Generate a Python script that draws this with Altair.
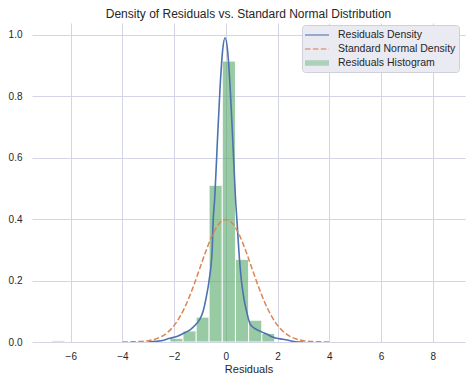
import altair as alt
import pandas as pd

# ---- text ----
chart_title = "Density of Residuals vs. Standard Normal Distribution"
x_title = "Residuals"

# ---- histogram (density) ----
hist_left = [-6.74, -2.17, -1.66, -1.15, -0.65, -0.14, 0.37, 0.88, 1.39]
hist_right = [-6.23, -1.66, -1.15, -0.65, -0.14, 0.37, 0.88, 1.39, 1.89]
hist_density = [0.004, 0.012, 0.036, 0.081, 0.51, 0.914, 0.269, 0.071, 0.028]

# ---- residuals KDE ----
kde_x = [-3.0, -2.7, -2.4, -2.17, -1.9, -1.59, -1.35, -1.13, -1.0, -0.88, -0.75,
         -0.65, -0.53, -0.5, -0.43, -0.33, -0.23, -0.13, -0.03, 0.07, 0.17, 0.27,
         0.37, 0.44, 0.5, 0.6, 0.7, 0.8, 0.93, 1.1, 1.38, 1.6, 1.8, 1.96, 2.2,
         2.45, 2.7, 3.0]
kde_y = [0.0, 0.002, 0.006, 0.012, 0.018, 0.03, 0.042, 0.06, 0.075, 0.10, 0.15,
         0.20, 0.30, 0.38, 0.47, 0.65, 0.82, 0.945, 0.99, 0.945, 0.82, 0.65,
         0.47, 0.38, 0.30, 0.20, 0.14, 0.10, 0.06, 0.045, 0.033, 0.025, 0.016,
         0.012, 0.009, 0.005, 0.001, 0.0]

# ---- standard normal density ----
norm_x = [-4.0, -3.75, -3.5, -3.25, -3.0, -2.75, -2.5, -2.25, -2.0, -1.75, -1.5,
          -1.25, -1.0, -0.75, -0.5, -0.25, 0.0, 0.25, 0.5, 0.75, 1.0, 1.25, 1.5,
          1.75, 2.0, 2.25, 2.5, 2.75, 3.0, 3.25, 3.5, 3.75, 4.0]
norm_y = [0.0001, 0.0004, 0.0009, 0.0020, 0.0044, 0.0091, 0.0175, 0.0317, 0.0540,
          0.0863, 0.1295, 0.1826, 0.2420, 0.3011, 0.3521, 0.3867, 0.3989, 0.3867,
          0.3521, 0.3011, 0.2420, 0.1826, 0.1295, 0.0863, 0.0540, 0.0317, 0.0175,
          0.0091, 0.0044, 0.0020, 0.0009, 0.0004, 0.0001]

# ---- ticks ----
x_ticks = [-6, -4, -2, 0, 2, 4, 6, 8]
y_ticks = [0.0, 0.2, 0.4, 0.6, 0.8, 1.0]

# ---- legend ----
series_names = ["Residuals Density", "Standard Normal Density", "Residuals Histogram"]
series_colors = ["#4c72b0", "#dd8452", "#55a868"]
legend_colors = ["#4c72b0", "#dd8452", "#93c6a0"]
series_dash = [[1, 0], [5.5, 2.4], [1, 0]]
line_path = "M-2,0H2"
patch_path = "M-2,-0.33H2M-2,-0.11H2M-2,0.11H2M-2,0.33H2"
series_shapes = [line_path, line_path, patch_path]

FONT = "Liberation Sans"

hist_df = pd.DataFrame({"left": hist_left, "right": hist_right, "density": hist_density})
kde_df = pd.DataFrame({"x": kde_x, "y": kde_y})
norm_df = pd.DataFrame({"x": norm_x, "y": norm_y})
legend_df = pd.DataFrame({"series": series_names})

xscale = alt.Scale(domain=[-7.5, 9.25], nice=False, zero=False)
yscale = alt.Scale(domain=[0, 1.038], nice=False)
xaxis = alt.Axis(values=x_ticks, title=x_title, labelPadding=9, titlePadding=2)
yaxis = alt.Axis(values=y_ticks, format=".1f", title=None, labelPadding=10)

bars = alt.Chart(hist_df).mark_bar(
    color=series_colors[2], opacity=0.6, stroke="white", strokeWidth=1, clip=True
).encode(
    x=alt.X("left:Q", scale=xscale, axis=xaxis),
    x2="right:Q",
    y=alt.Y("density:Q", scale=yscale, axis=yaxis),
    y2=alt.datum(0),
)

kde_line = alt.Chart(kde_df).mark_line(
    color=series_colors[0], strokeWidth=1.6, interpolate="monotone", clip=True
).encode(
    x=alt.X("x:Q", scale=xscale, axis=xaxis),
    y=alt.Y("y:Q", scale=yscale, axis=yaxis),
)

norm_line = alt.Chart(norm_df).mark_line(
    color=series_colors[1], strokeWidth=1.5, strokeDash=series_dash[1],
    interpolate="monotone", clip=True
).encode(
    x=alt.X("x:Q", scale=xscale, axis=xaxis),
    y=alt.Y("y:Q", scale=yscale, axis=yaxis),
)

leg = alt.Legend(title=None, orient="none", legendX=270, legendY=2)
legend_layer = alt.Chart(legend_df).transform_filter("false").mark_point(
    filled=False, strokeWidth=1.5, size=144
).encode(
    color=alt.Color("series:N", scale=alt.Scale(domain=series_names, range=legend_colors), legend=leg),
    shape=alt.Shape("series:N", scale=alt.Scale(domain=series_names, range=series_shapes), legend=leg),
    strokeDash=alt.StrokeDash("series:N", scale=alt.Scale(domain=series_names, range=series_dash), legend=leg),
)

chart = alt.layer(bars, kde_line, norm_line, legend_layer).properties(
    width=433,
    height=319,
    title=chart_title,
    autosize=alt.AutoSizeParams(type="none"),
    padding={"left": 24, "top": 15, "right": 1, "bottom": 36},
).configure_view(
    fill="#eaeaf2", strokeWidth=0
).configure_axis(
    grid=True, gridColor="#d4d4e7", gridWidth=1, domain=False, ticks=False,
    labelFont=FONT, labelFontSize=10, labelColor="#262626",
    titleFont=FONT, titleFontSize=11, titleColor="#262626", titleFontWeight="normal",
).configure_legend(
    padding=3, rowPadding=1, symbolOffset=5, labelOffset=14,
    labelFont=FONT, labelFontSize=10.5, labelColor="#262626", labelLimit=300,
    fillColor="#eaeaf2", strokeColor="#d0d0d8", cornerRadius=3,
    symbolSize=144, symbolStrokeWidth=1.5,
).configure_title(
    font=FONT, fontSize=12, fontWeight="normal", color="#262626", offset=2, anchor="middle"
)

chart.save("out.html", embed_options={"renderer": "svg", "actions": False})
